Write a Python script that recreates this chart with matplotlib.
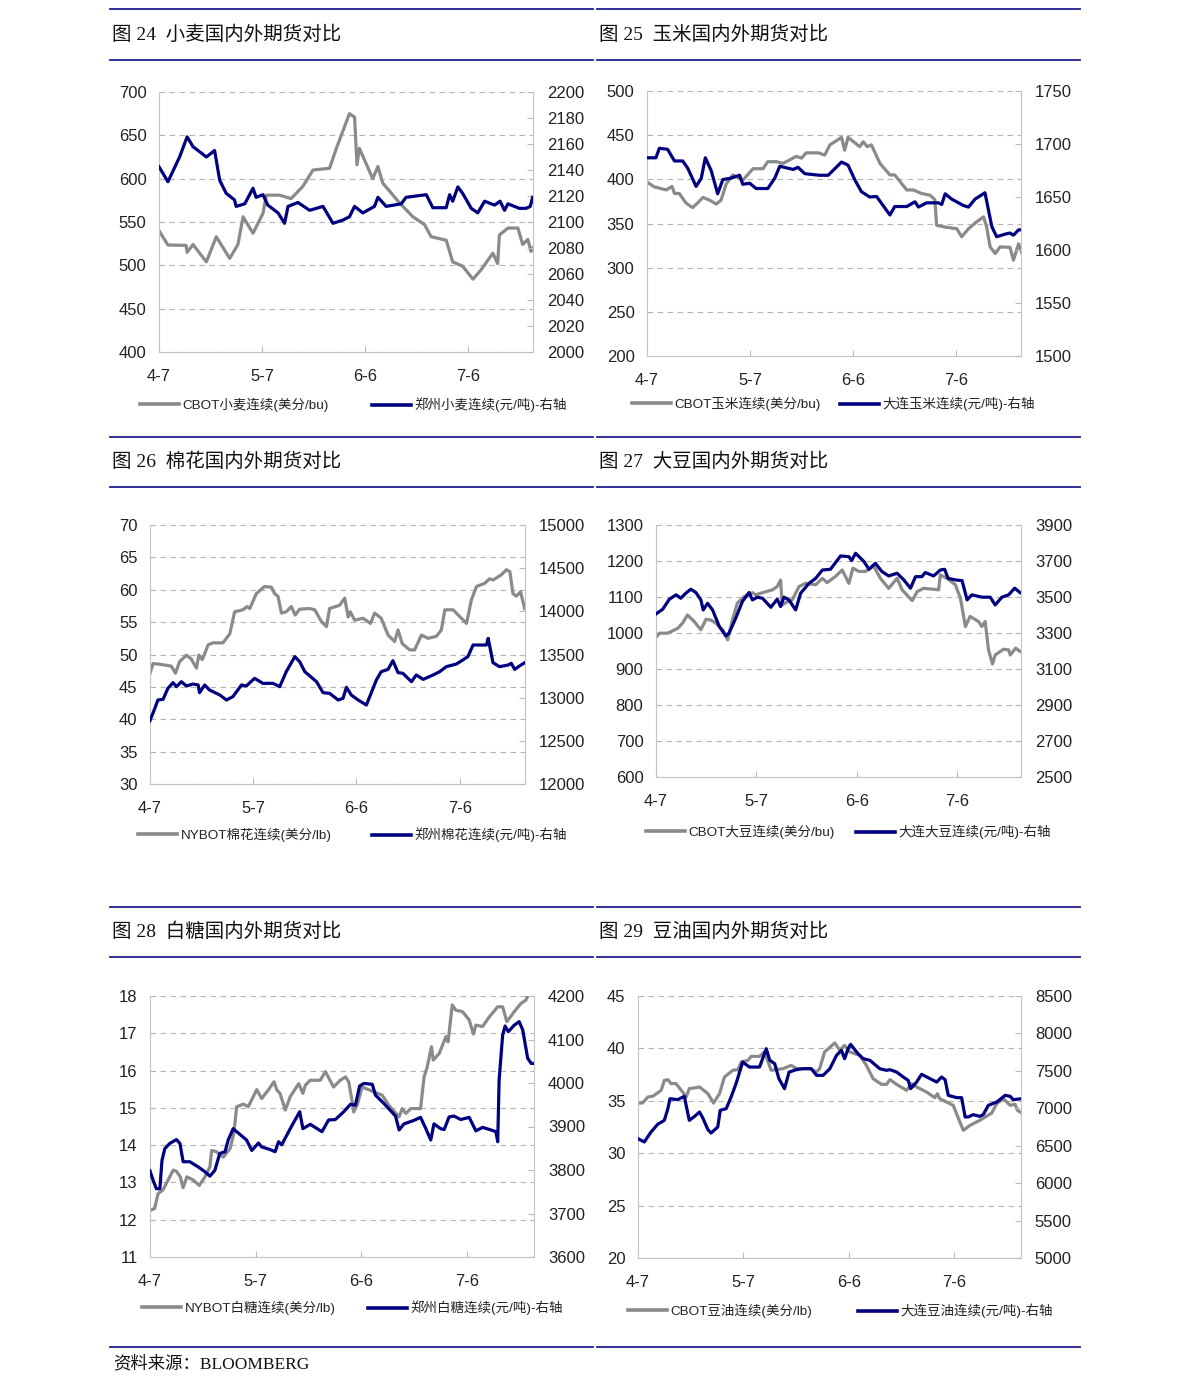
import numpy as np
import matplotlib.pyplot as plt
from matplotlib.lines import Line2D

W, H = 1191, 1395
GRAY = '#8a8a8a'
NAVY = '#000080'
RULE = '#1f1f8f'
SANS = ['Liberation Sans', 'Noto Sans CJK SC']
SERIF = ['Liberation Serif', 'Noto Sans CJK SC']
plt.rcParams['font.family'] = SANS

# x = days after 4-7
tick_days = [0, 30, 60, 90]
tick_names = ['4-7', '5-7', '6-6', '7-6']

# --- 小麦 wheat
wheat_cbot_x = [0, 2.6, 7.9, 8.2, 9.9, 13.8, 16.7, 20.6, 23.0, 24.5, 27.4, 30.3, 31.3, 35.1, 38.5, 41.9, 44.9,
                49.7, 51.7, 55.5, 57.0, 57.7, 58.4, 62.3, 63.8, 65.2, 70.1, 74.0, 77.4, 79.3, 83.7, 85.6, 88.5,
                91.5, 93.9, 97.3, 98.7, 99.2, 101.7, 104.6, 106.0, 107.5, 108.4, 108.9]
wheat_cbot = [540, 523.5, 523, 515, 524, 504, 533, 508, 524, 556, 537, 560, 581, 581, 577, 591, 610,
              612, 635, 675, 671, 616, 635, 600, 614, 595, 572, 556, 547, 533, 529, 504, 499,
              484, 495, 514, 502, 535, 543, 543, 524, 530, 516, 520]
wheat_zz_x = [0, 2.6, 6.0, 8.2, 9.9, 13.8, 16.2, 17.7, 19.6, 22.0, 22.5, 25.0, 27.4, 28.3, 30.3, 31.7, 34.7,
              36.6, 37.6, 40.5, 43.9, 47.8, 50.7, 53.6, 55.5, 57.0, 59.4, 62.8, 63.8, 66.2, 70.6, 72.0, 77.9,
              79.8, 83.7, 84.7, 85.6, 87.1, 88.5, 91.0, 92.9, 94.9, 97.8, 99.4, 100.7, 101.7, 105.0, 107.0,
              108.2, 108.9]
wheat_zz = [2142.5, 2131, 2150, 2165.5, 2158, 2150, 2155, 2132, 2122, 2117, 2112, 2114, 2126, 2119, 2121, 2113,
            2107, 2099, 2112, 2115, 2109, 2112, 2099, 2101.5, 2104, 2112, 2107, 2112, 2119, 2112, 2114, 2119,
            2121, 2111, 2111, 2121, 2116, 2127, 2122, 2110.5, 2107, 2116, 2113, 2116, 2109, 2114, 2110.5,
            2110.5, 2112, 2119]

# --- 玉米 corn
corn_cbot_x = [0, 2.1, 5.6, 7.3, 8.0, 9.4, 11.4, 13.3, 14.8, 16.3, 18.2, 20.2, 21.6, 23.1, 25.0, 27.9, 30.9,
               33.8, 35.2, 37.7, 39.6, 43.5, 45.0, 46.4, 49.9, 51.8, 53.3, 56.7, 57.6, 58.6, 62.0, 63.0, 64.2,
               65.4, 67.9, 70.8, 72.2, 75.7, 77.6, 80.0, 82.5, 83.9, 84.4, 86.9, 90.3, 91.7, 93.7, 96.1, 98.1,
               99.0, 100.0, 101.5, 102.9, 105.8, 106.8, 108.3, 109.3]
corn_cbot = [397, 391.5, 388, 392, 384, 384, 373, 368, 373.5, 379.5, 376.5, 372, 376.5, 395, 405, 399, 412,
             412, 420, 420, 418, 426, 424, 430, 430, 427.5, 439, 447.5, 433, 447.5, 437, 442.5, 437,
             439, 418, 405, 405, 388, 388, 384, 382, 377, 348, 346, 344, 335, 344, 352, 357.5,
             346, 323.5, 316, 323.5, 323, 308.5, 327, 316]
corn_dl_x = [0, 2.6, 3.6, 6.0, 8.0, 10.4, 11.9, 14.3, 15.8, 17.0, 18.7, 20.6, 22.1, 24.1, 27.0, 27.9, 29.9,
             31.8, 35.2, 37.2, 38.7, 42.6, 44.0, 46.0, 50.3, 52.8, 56.7, 58.6, 60.6, 62.5, 64.9, 66.9, 70.8,
             72.2, 75.7, 78.1, 79.1, 81.5, 84.9, 85.9, 86.9, 88.8, 92.2, 93.7, 95.6, 98.5, 100.5, 101.9,
             104.4, 105.8, 106.8, 108.3, 109.3]
corn_dl = [1687, 1687, 1696, 1695, 1684, 1684, 1677, 1660, 1667.5, 1687, 1675, 1653, 1666.5, 1667.5, 1670.5,
           1662, 1663, 1658, 1658, 1667.5, 1679, 1676, 1678, 1672, 1670.5, 1670.5, 1683, 1680, 1666, 1655,
           1650, 1650.5, 1633, 1641, 1641, 1645.5, 1640.5, 1644.5, 1644.5, 1643, 1653, 1648, 1642, 1640.5,
           1648, 1654, 1622, 1612.5, 1615, 1616, 1614, 1619, 1619]

# --- 棉花 cotton
cotton_ny_x = [0, 0.9, 2.8, 6.2, 7.4, 8.6, 10.6, 12.0, 13.5, 14.2, 15.2, 16.9, 18.3, 21.2, 23.2, 24.6, 27.0,
               28.2, 29.0, 30.9, 33.3, 35.3, 36.2, 37.2, 38.2, 39.6, 41.1, 42.2, 43.5, 46.4, 47.9, 49.8, 51.3,
               52.2, 55.1, 56.6, 57.6, 58.2, 59.5, 61.9, 64.1, 65.3, 67.2, 69.2, 71.1, 72.1, 73.3, 75.5, 76.9,
               78.9, 80.8, 83.2, 84.7, 85.7, 88.1, 92.0, 93.4, 94.9, 97.3, 98.7, 99.7, 102.1, 103.6, 104.6,
               105.5, 106.5, 107.7, 108.9]
cotton_ny = [47.1, 48.6, 48.5, 48.2, 47.1, 48.9, 49.9, 49.3, 47.9, 49.9, 49.2, 51.5, 51.8, 51.8, 53.2, 56.6,
             56.9, 57.4, 57.1, 59.4, 60.5, 60.4, 59.4, 59.0, 56.4, 56.6, 57.4, 56.1, 57.0, 57.1, 56.9, 55.1,
             54.3, 57.1, 57.6, 58.7, 55.8, 56.6, 55.3, 55.6, 54.8, 56.4, 55.6, 53.0, 52.0, 53.8, 51.7, 50.7,
             50.7, 53.0, 52.5, 52.8, 53.8, 56.9, 56.9, 54.8, 58.4, 60.5, 61.0, 61.7, 61.5, 62.3, 63.1, 62.8,
             59.4, 59.0, 59.7, 57.1]
cotton_zz_x = [0, 1.4, 2.3, 3.8, 5.2, 6.7, 7.7, 9.1, 10.6, 12.5, 14.0, 14.4, 15.9, 17.3, 20.3, 22.2, 24.1,
               26.6, 28.0, 30.4, 32.8, 35.8, 37.7, 39.6, 42.1, 43.5, 45.0, 48.4, 50.3, 52.2, 54.7, 56.1, 57.1,
               58.5, 60.5, 62.9, 65.8, 67.2, 69.2, 70.6, 72.1, 73.5, 76.0, 77.4, 79.4, 82.3, 84.2, 86.1, 89.1,
               92.4, 93.9, 97.8, 98.3, 99.7, 101.6, 104.1, 105.0, 106.0, 107.4, 108.9]
cotton_zz = [12734, 12876, 12973, 12981, 13108, 13174, 13127, 13185, 13135, 13158, 13147, 13058, 13147, 13089,
             13031, 12973, 13012, 13147, 13135, 13224, 13166, 13166, 13127, 13301, 13475, 13417, 13301, 13185,
             13058, 13050, 12973, 12992, 13120, 13031, 12973, 12915, 13205, 13301, 13328, 13429, 13290, 13282,
             13185, 13263, 13212, 13263, 13301, 13359, 13390, 13475, 13610, 13610, 13687, 13405, 13359, 13378,
             13398, 13328, 13367, 13405]

# --- 大豆 soybean
soy_cbot_x = [0, 1.0, 3.5, 6.5, 7.9, 9.4, 11.4, 13.4, 14.9, 16.4, 17.9, 19.9, 21.4, 22.8, 24.3, 26.3, 28.8,
              29.8, 31.8, 34.8, 36.2, 37.2, 37.7, 39.2, 40.7, 42.7, 44.7, 47.7, 49.7, 51.1, 53.6, 55.6, 57.6,
              58.8, 60.6, 62.6, 65.0, 67.0, 69.5, 72.0, 73.5, 76.5, 78.0, 79.9, 83.4, 84.4, 84.9, 86.9, 89.4,
              90.9, 92.4, 93.8, 96.3, 97.3, 98.3, 99.3, 100.5, 101.3, 103.8, 105.3, 105.8, 107.4, 108.7]
soy_cbot = [988, 999.5, 999.5, 1013, 1027, 1050, 1032, 1009, 1038, 1036, 1027, 1009, 981, 1036, 1083, 1101,
            1112, 1106, 1112, 1120, 1129, 1147, 1078, 1087, 1092, 1129, 1138, 1134, 1152, 1140, 1157, 1175,
            1138, 1180, 1171, 1171, 1186, 1152, 1124, 1152, 1120, 1090, 1115, 1124, 1121, 1120, 1161, 1152,
            1134, 1097, 1018, 1046, 1032, 1018, 1032, 953, 914, 939, 955, 953, 939, 958, 949]
soy_dl_x = [0, 2.0, 4.0, 6.0, 7.4, 8.9, 10.4, 11.9, 13.4, 14.1, 15.4, 16.9, 18.9, 20.9, 21.8, 23.8, 25.8,
            27.8, 28.8, 30.3, 31.8, 34.3, 36.2, 37.2, 38.2, 39.7, 41.7, 43.2, 45.7, 47.7, 49.7, 52.1, 55.1,
            57.6, 58.4, 59.6, 62.1, 63.6, 65.5, 67.5, 69.5, 72.0, 74.0, 76.0, 77.5, 79.4, 80.4, 82.9, 84.9,
            86.2, 87.2, 89.4, 91.4, 92.9, 94.3, 97.3, 99.8, 101.3, 103.3, 105.3, 107.1, 108.7]
soy_dl = [3406, 3432, 3488, 3512, 3493, 3521, 3543, 3525, 3484, 3428, 3465, 3428, 3336, 3284, 3299, 3382, 3475,
          3525, 3484, 3499, 3493, 3443, 3488, 3447, 3499, 3484, 3428, 3521, 3576, 3604, 3650, 3654, 3728,
          3724, 3702, 3743, 3697, 3654, 3687, 3641, 3617, 3632, 3595, 3549, 3613, 3613, 3636, 3617, 3650,
          3654, 3604, 3595, 3591, 3484, 3512, 3499, 3499, 3456, 3499, 3512, 3549, 3525]

# --- 白糖 sugar
sugar_ny_x = [0, 1.3, 2.3, 3.7, 5.1, 6.6, 7.5, 8.6, 9.4, 10.5, 12.3, 14.0, 15.6, 17.0, 17.5, 18.9, 20.8,
              22.7, 23.8, 24.6, 26.5, 27.9, 30.3, 31.7, 33.6, 35.2, 36.0, 36.9, 38.4, 39.8, 42.2, 43.4, 44.1,
              45.5, 48.3, 49.8, 52.1, 54.0, 55.5, 56.4, 57.4, 57.8, 58.8, 60.2, 63.5, 65.9, 67.8, 70.7, 71.6,
              72.6, 74.0, 76.8, 77.8, 78.7, 79.9, 80.4, 82.1, 84.0, 84.6, 85.8, 86.8, 88.7, 90.6, 91.8, 92.5,
              94.4, 96.3, 98.7, 100.1, 101.3, 103.4, 105.3, 106.7, 107.4]
sugar_ny = [12.25, 12.3, 12.7, 12.8, 13.06, 13.33, 13.3, 13.15, 12.86, 13.15, 13.06, 12.92, 13.15, 13.42, 13.86,
            13.82, 13.68, 13.9, 14.31, 15.03, 15.1, 15.03, 15.49, 15.25, 15.48, 15.7, 15.48, 15.39, 14.94, 15.3,
            15.65, 15.39, 15.61, 15.74, 15.74, 15.97, 15.56, 15.74, 15.83, 15.7, 15.16, 14.89, 15.07, 15.56,
            15.43, 15.34, 15.07, 14.76, 14.98, 14.85, 14.98, 14.98, 15.83, 16.1, 16.64, 16.28, 16.46, 16.91,
            16.77, 17.76, 17.62, 17.58, 17.36, 16.98, 17.22, 17.18, 17.44, 17.71, 17.71, 17.31, 17.58, 17.8,
            17.89, 18.03]
sugar_zz_x = [0, 0.9, 1.8, 2.8, 3.4, 4.2, 5.6, 7.5, 8.5, 9.4, 11.3, 13.7, 15.6, 17.0, 18.4, 19.8, 21.3, 22.2,
              23.6, 27.4, 28.9, 30.8, 31.7, 34.1, 35.5, 36.5, 37.4, 39.8, 42.5, 43.4, 45.5, 48.8, 50.7, 52.6,
              55.0, 56.9, 58.3, 59.5, 60.7, 63.1, 64.0, 66.4, 69.7, 70.7, 72.1, 74.9, 76.8, 78.3, 79.7, 80.6,
              82.5, 83.5, 84.9, 86.3, 88.2, 90.6, 92.5, 94.4, 96.8, 98.2, 98.7, 99.1, 100.1, 100.8, 101.7,
              103.4, 104.8, 105.8, 107.2, 108.2, 109.1]
sugar_zz = [3798, 3776, 3757, 3757, 3822, 3849, 3861, 3870, 3861, 3819, 3819, 3807, 3796, 3786, 3799, 3838,
            3842, 3869, 3895, 3869, 3845, 3862, 3853, 3847, 3842, 3865, 3858, 3895, 3934, 3895, 3905, 3888,
            3915, 3916, 3934, 3951, 3949, 3993, 3999, 3997, 3972, 3953, 3924, 3892, 3906, 3914, 3921, 3895,
            3869, 3906, 3895, 3893, 3922, 3924, 3916, 3921, 3890, 3898, 3892, 3888, 3865, 4007, 4110, 4131,
            4118, 4133, 4141, 4122, 4057, 4045, 4045]

# --- 豆油 soybean oil
soyoil_cbot_x = [0, 1.3, 2.8, 4.2, 6.6, 7.5, 8.5, 9.4, 10.8, 12.7, 13.7, 14.6, 16.5, 17.5, 19.9, 21.5, 23.2,
                 24.6, 27.0, 28.4, 29.4, 31.3, 32.2, 34.6, 36.0, 37.9, 41.3, 43.6, 45.1, 48.9, 50.8, 51.7, 53.1,
                 56.0, 57.4, 58.8, 60.3, 63.1, 65.0, 66.9, 69.3, 70.7, 71.7, 73.6, 76.4, 77.9, 79.3, 82.1, 84.5,
                 85.2, 85.9, 89.7, 91.6, 92.6, 94.5, 97.3, 98.8, 100.7, 102.1, 104.0, 105.9, 107.3, 108.0, 109.2]
soyoil_cbot = [34.79, 34.79, 35.36, 35.43, 36.0, 36.95, 37.02, 36.64, 36.64, 35.84, 35.36, 36.16, 36.25, 36.32,
               35.68, 34.79, 35.68, 37.27, 37.91, 37.97, 38.7, 38.86, 39.24, 39.24, 39.66, 37.91, 38.07, 38.38,
               38.07, 38.07, 37.75, 38.07, 39.66, 40.52, 39.82, 40.29, 39.66, 39.34, 38.38, 37.11, 36.57, 36.57,
               37.02, 36.57, 36.0, 36.64, 36.32, 35.84, 35.3, 35.68, 35.2, 34.57, 32.98, 32.18, 32.66, 33.14,
               33.45, 33.84, 34.73, 35.2, 34.57, 34.66, 34.09, 33.84]
soyoil_dl_x = [0, 1.8, 3.7, 5.6, 7.5, 8.5, 9.1, 11.3, 13.2, 13.7, 14.6, 16.1, 17.5, 18.4, 19.9, 20.8, 22.7,
               23.4, 25.1, 26.5, 27.9, 29.8, 31.7, 34.6, 36.5, 37.5, 38.9, 40.1, 41.7, 43.0, 45.1, 47.0, 49.3,
               50.8, 52.7, 54.6, 56.5, 57.9, 58.8, 59.8, 60.5, 62.6, 64.1, 66.0, 68.8, 70.7, 71.7, 73.6, 75.5,
               76.9, 77.6, 79.3, 80.7, 83.1, 85.0, 86.4, 87.4, 88.3, 90.7, 92.1, 93.1, 94.0, 95.4, 97.3, 98.3,
               99.7, 102.1, 104.5, 105.9, 106.8, 109.2]
soyoil_dl = [6594, 6550, 6683, 6786, 6839, 6995, 7128, 7115, 7160, 7040, 6839, 6892, 6950, 6875, 6714, 6670,
             6750, 6973, 6995, 7151, 7329, 7618, 7551, 7551, 7796, 7641, 7596, 7396, 7262, 7484, 7516, 7529,
             7529, 7440, 7440, 7529, 7707, 7774, 7663, 7796, 7854, 7730, 7663, 7641, 7529, 7507, 7516, 7484,
             7418, 7373, 7262, 7351, 7454, 7396, 7351, 7418, 7382, 7173, 7142, 7142, 6884, 6884, 6915, 6892,
             6919, 7039, 7084, 7173, 7160, 7115, 7128]

titles = ['图 24  小麦国内外期货对比', '图 25  玉米国内外期货对比', '图 26  棉花国内外期货对比',
          '图 27  大豆国内外期货对比', '图 28  白糖国内外期货对比', '图 29  豆油国内外期货对比']
gray_labels = ['CBOT小麦连续(美分/bu)', 'CBOT玉米连续(美分/bu)', 'NYBOT棉花连续(美分/lb)',
               'CBOT大豆连续(美分/bu)', 'NYBOT白糖连续(美分/lb)', 'CBOT豆油连续(美分/lb)']
navy_labels = ['郑州小麦连续(元/吨)-右轴', '大连玉米连续(元/吨)-右轴', '郑州棉花连续(元/吨)-右轴',
               '大连大豆连续(元/吨)-右轴', '郑州白糖连续(元/吨)-右轴', '大连豆油连续(元/吨)-右轴']

fig = plt.figure(figsize=(W / 100, H / 100), dpi=100)


def fx(x):
    return x / W


def fy(y):
    return 1 - y / H


def rule(x0, x1, y):
    fig.add_artist(Line2D([fx(x0), fx(x1)], [fy(y), fy(y)], color=RULE, lw=1.3))


def panel(box, gx, gy, bx, by, left_ticks, right_ticks, glabel, blabel, leg):
    l, t, r, b = box
    ax = fig.add_axes([fx(l), fy(b), (r - l) / W, (b - t) / H])
    ax.plot(gx, gy, color=GRAY, lw=2.3)
    ax.set_xlim(0, 109)
    ax.set_ylim(left_ticks[0], left_ticks[-1])
    ax.set_yticks(left_ticks)
    ax.set_xticks(tick_days, tick_names)
    ax.grid(axis='y', ls=(0, (5, 4)), color='#b4b4b4', lw=0.8)
    ax.tick_params(axis='y', direction='in', length=0, labelsize=12, pad=9, colors='#222222')
    ax.tick_params(axis='x', direction='in', length=4, color='#bbbbbb', labelsize=12, pad=12, labelcolor='#222222')
    for s in ['top', 'right']:
        ax.spines[s].set_visible(False)
    for s in ['left', 'bottom']:
        ax.spines[s].set_color('#c4c4c4')

    ax2 = ax.twinx()
    ax2.plot(bx, by, color=NAVY, lw=2.3)
    ax2.set_ylim(right_ticks[0], right_ticks[-1])
    ax2.set_yticks(right_ticks)
    ax2.tick_params(axis='y', direction='in', length=4, color='#bbbbbb', labelsize=12, pad=10, labelcolor='#222222')
    for s in ['top', 'left', 'bottom']:
        ax2.spines[s].set_visible(False)
    ax2.spines['right'].set_color('#c4c4c4')

    ly, gx0, bx0 = leg
    for x0, col, lab in [(gx0, GRAY, glabel), (bx0, NAVY, blabel)]:
        fig.legend(handles=[Line2D([], [], color=col, lw=2.6)], labels=[lab], loc='center left',
                   bbox_to_anchor=(fx(x0), fy(ly)), bbox_transform=fig.transFigure, frameon=False,
                   borderpad=0, borderaxespad=0, handlelength=2.9, handletextpad=0.25, fontsize=9.7,
                   labelcolor='#222222')


panels = [
    ((159, 92, 533, 352), wheat_cbot_x, wheat_cbot, wheat_zz_x, wheat_zz,
     np.arange(400, 701, 50), np.arange(2000, 2201, 20), (405, 140, 372)),
    ((647, 91, 1021, 356), corn_cbot_x, corn_cbot, corn_dl_x, corn_dl,
     np.arange(200, 501, 50), np.arange(1500, 1751, 50), (404, 632, 840)),
    ((150, 525, 525, 784), cotton_ny_x, cotton_ny, cotton_zz_x, cotton_zz,
     np.arange(30, 71, 5), np.arange(12000, 15001, 500), (835, 138, 372)),
    ((656, 525, 1021, 777), soy_cbot_x, soy_cbot, soy_dl_x, soy_dl,
     np.arange(600, 1301, 100), np.arange(2500, 3901, 200), (832, 646, 856)),
    ((150, 996, 534, 1257), sugar_ny_x, sugar_ny, sugar_zz_x, sugar_zz,
     np.arange(11, 19, 1), np.arange(3600, 4201, 100), (1308, 142, 368)),
    ((638, 996, 1021, 1258), soyoil_cbot_x, soyoil_cbot, soyoil_dl_x, soyoil_dl,
     np.arange(20, 46, 5), np.arange(5000, 8501, 500), (1311, 628, 858)),
]

for i, p in enumerate(panels):
    panel(p[0], p[1], p[2], p[3], p[4], p[5], p[6], gray_labels[i], navy_labels[i], p[7])

# page headers
for k, (top, mid, bot) in enumerate([(9, 35, 60), (437, 462, 487), (907, 932, 957)]):
    for x0, x1 in [(110, 593), (597, 1080)]:
        rule(x0, x1, top)
        rule(x0, x1, bot)
    fig.text(fx(112), fy(mid), titles[2 * k], family=SERIF, fontsize=14, va='center', ha='left', color='#111111')
    fig.text(fx(599), fy(mid), titles[2 * k + 1], family=SERIF, fontsize=14, va='center', ha='left', color='#111111')

rule(110, 593, 1347)
rule(597, 1080, 1347)
fig.text(fx(113), fy(1364), '资料来源：BLOOMBERG', family=SERIF, fontsize=12.5, va='center', ha='left',
         color='#111111')

fig.savefig('out.png', dpi=100, facecolor='white')
